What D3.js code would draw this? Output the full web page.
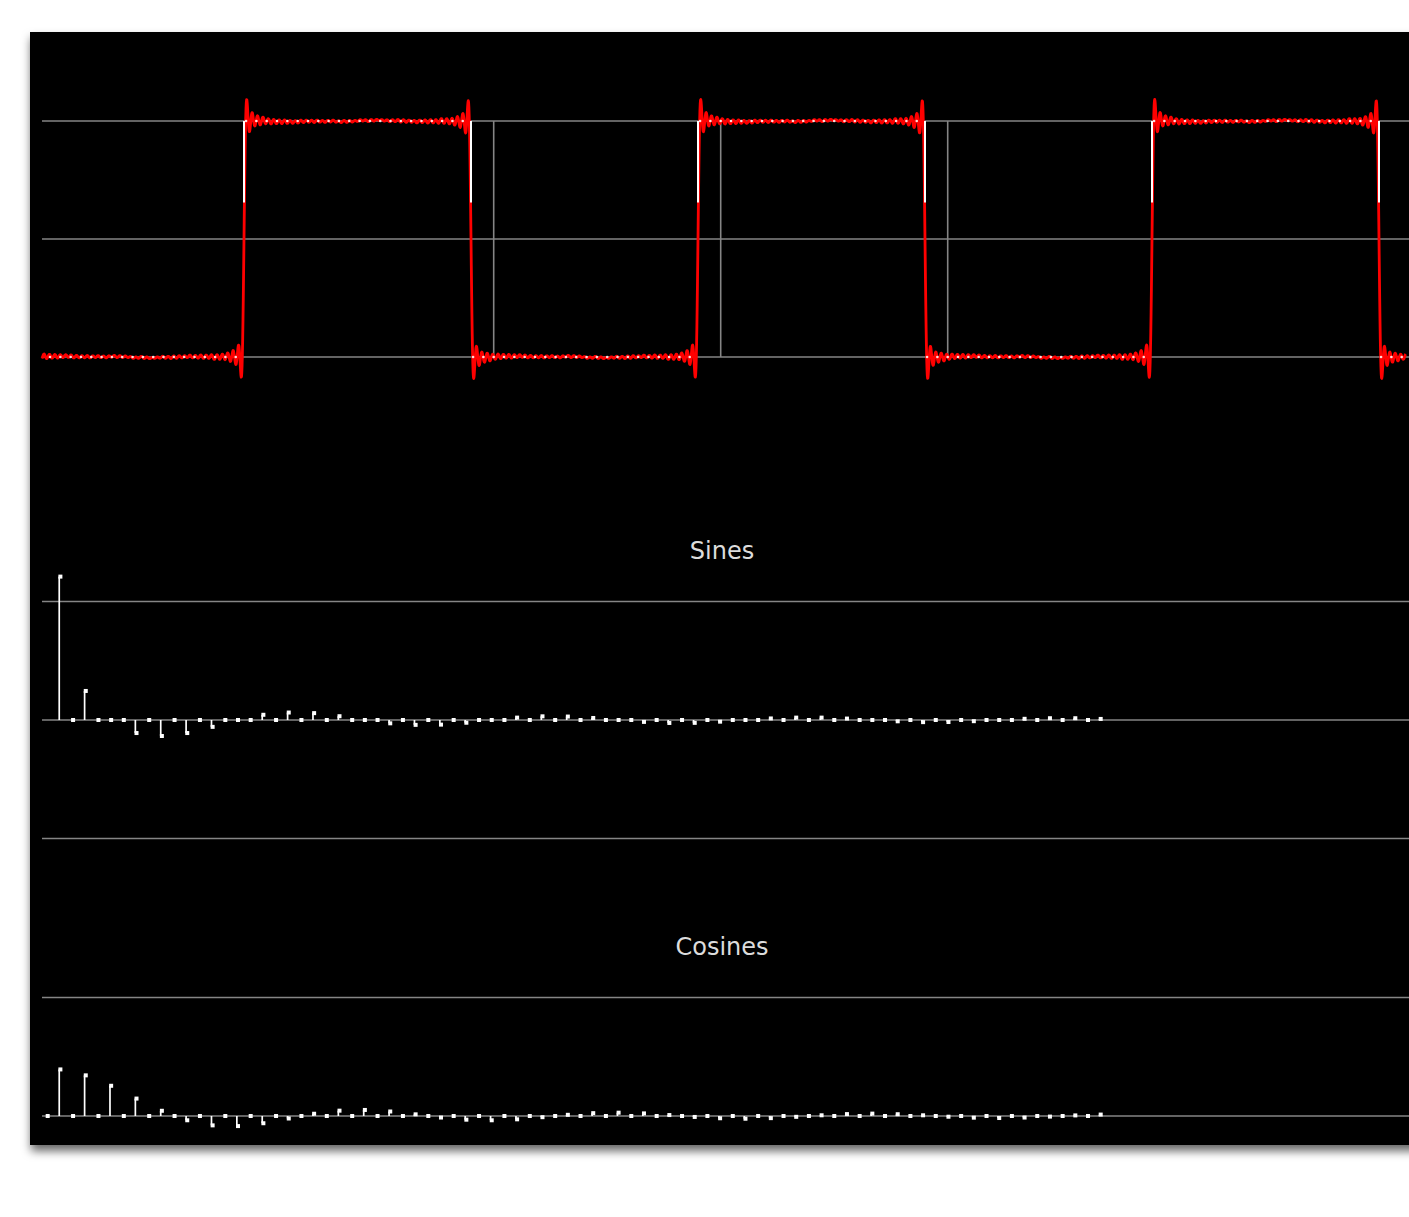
<!DOCTYPE html>
<html>
<head>
<meta charset="utf-8">
<style>
  html, body { margin: 0; background: #fff; }
  svg { display: block; }
  text { font-family: 'DejaVu Sans', Verdana, sans-serif; }
</style>
</head>
<body>
<svg width="1409" height="1217"></svg>
<script src="https://cdn.jsdelivr.net/npm/d3@7/dist/d3.min.js"></script>
<script>
// harmonic index shown on the two stem plots
var harmonics = d3.range(0, 84)

// sine coefficients (no stem for k = 0)
var sines = [
  null, 1.21, 0, 0.245, 0, 0, 0, -0.11, 0, -0.135,
  0, -0.11, 0, -0.058, 0, 0, 0, 0.044, 0, 0.063,
  0, 0.058, 0, 0.032, 0, 0, 0, -0.028, 0, -0.041,
  0, -0.039, 0, -0.023, 0, 0, 0, 0.02, 0, 0.031,
  0, 0.029, 0, 0.017, 0, 0, 0, -0.016, 0, -0.025,
  0, -0.024, 0, -0.014, 0, 0, 0, 0.013, 0, 0.02,
  0, 0.02, 0, 0.012, 0, 0, 0, -0.011, 0, -0.018,
  0, -0.017, 0, -0.01, 0, 0, 0, 0.01, 0, 0.015,
  0, 0.015, 0, 0.009
]

// cosine coefficients
var cosines = [
  0, 0.393, 0, 0.343, 0, 0.255, 0, 0.147, 0, 0.044,
  0, -0.036, 0, -0.079, 0, -0.085, 0, -0.061, 0, -0.021,
  0, 0.019, 0, 0.045, 0, 0.051, 0, 0.038, 0, 0.014,
  0, -0.013, 0, -0.031, 0, -0.036, 0, -0.028, 0, -0.01,
  0, 0.01, 0, 0.024, 0, 0.028, 0, 0.022, 0, 0.008,
  0, -0.008, 0, -0.019, 0, -0.023, 0, -0.018, 0, -0.007,
  0, 0.006, 0, 0.016, 0, 0.02, 0, 0.015, 0, 0.006,
  0, -0.006, 0, -0.014, 0, -0.017, 0, -0.013, 0, -0.005,
  0, 0.005, 0, 0.012
]

// the drawn square wave, time in periods, value positive = down (screen style)
var edgeTimes = [0.45, 0.95, 1.45, 1.95, 2.45, 2.95]
var startLevel = 1
var samplesPerPeriod = 44
var edgeMark = [-1, -0.31]
var markers = [1, 1.5, 2]
var gridValues = [-1, 0, 1]
var titles = ['Sines', 'Cosines']

;(function (d3) {
  var svg = d3.select('svg')
  var defs = svg.append('defs')

  var shadow = defs.append('filter')
        .attr('id', 'shadow')
        .attr('x', '-5%').attr('y', '-5%')
        .attr('width', '110%').attr('height', '110%')
  shadow.append('feDropShadow')
        .attr('dx', 1).attr('dy', 6)
        .attr('stdDeviation', 5)
        .attr('flood-color', '#000')
        .attr('flood-opacity', 0.6)

  defs.append('clipPath').attr('id', 'panel')
        .append('rect')
        .attr('x', 30).attr('y', 32)
        .attr('width', 1420).attr('height', 1113)

  svg.append('rect')
        .attr('x', 30).attr('y', 32)
        .attr('width', 1420).attr('height', 1113)
        .attr('fill', '#000')
        .attr('filter', 'url(#shadow)')

  var g = svg.append('g').attr('clip-path', 'url(#panel)')

  var gridLeft = 42
  var gridRight = 1440
  var gridColor = '#858585'

  // ---- signal panel ----
  var xTop = d3.scaleLinear().domain([0, 3]).range([39.7, 1401.7])
  var yTop = d3.scaleLinear().domain([-1, 1]).range([121, 357])

  g.selectAll('line.topgrid')
        .data(gridValues)
        .enter()
        .append('line')
        .attr('class', 'topgrid')
        .attr('x1', gridLeft).attr('x2', gridRight)
        .attr('y1', function (d) { return yTop(d) })
        .attr('y2', function (d) { return yTop(d) })
        .style('stroke', gridColor)
        .style('stroke-width', 1.6)

  g.selectAll('line.marker')
        .data(markers)
        .enter()
        .append('line')
        .attr('class', 'marker')
        .attr('x1', function (d) { return xTop(d) })
        .attr('x2', function (d) { return xTop(d) })
        .attr('y1', yTop(-1)).attr('y2', yTop(1))
        .style('stroke', gridColor)
        .style('stroke-width', 1.6)

  function level (t) {
    var n = edgeTimes.filter(function (e) { return e <= t }).length
    return n % 2 === 0 ? startLevel : -startLevel
  }

  function synth (t) {
    var s = 0
    harmonics.forEach(function (k) {
      var w = 2 * Math.PI * k * t
      s += cosines[k] * Math.cos(w) + (sines[k] || 0) * Math.sin(w)
    })
    return s
  }

  var t0 = xTop.invert(42)
  var t1 = xTop.invert(1406)
  var step = xTop.invert(40) - xTop.invert(39.7)
  var curve = d3.range(t0, t1, step).map(function (t) {
    return {t: t, v: synth(t)}
  })

  var ln = d3.line()
        .x(function (d) { return xTop(d.t) })
        .y(function (d) { return yTop(d.v) })

  g.append('path')
        .datum(curve)
        .attr('d', ln)
        .style('fill', 'none')
        .style('stroke', '#ff0000')
        .style('stroke-width', 2.8)
        .style('stroke-linejoin', 'round')

  g.selectAll('line.edge')
        .data(edgeTimes)
        .enter()
        .append('line')
        .attr('class', 'edge')
        .attr('x1', function (d) { return xTop(d) })
        .attr('x2', function (d) { return xTop(d) })
        .attr('y1', yTop(edgeMark[0]))
        .attr('y2', yTop(edgeMark[1]))
        .style('stroke', '#fff')
        .style('stroke-width', 2)

  var samples = d3.range(0, 3 * samplesPerPeriod + 1)
        .map(function (i) { return i / samplesPerPeriod })
        .filter(function (t) { return t >= t0 && t <= t1 })

  g.selectAll('circle.sample')
        .data(samples)
        .enter()
        .append('circle')
        .attr('class', 'sample')
        .attr('cx', function (d) { return xTop(d) })
        .attr('cy', function (d) { return yTop(level(d)) })
        .attr('r', 1.3)
        .style('fill', '#fff')
        .style('opacity', 0.85)

  // ---- coefficient panels ----
  var xH = d3.scaleLinear().domain([0, 83]).range([47.3, 1100.3])

  function stemPanel (values, title, top, titleY) {
    var y = d3.scaleLinear().domain([-1, 1]).range([top + 237, top])
    var panel = g.append('g')

    panel.append('text')
          .attr('x', 722).attr('y', titleY)
          .attr('text-anchor', 'middle')
          .style('font-size', '24px')
          .style('fill', '#dcdcdc')
          .text(title)

    panel.selectAll('line.grid')
          .data(gridValues)
          .enter()
          .append('line')
          .attr('class', 'grid')
          .attr('x1', gridLeft).attr('x2', gridRight)
          .attr('y1', function (d) { return y(d) })
          .attr('y2', function (d) { return y(d) })
          .style('stroke', gridColor)
          .style('stroke-width', 1.6)

    var pts = harmonics
          .filter(function (k) { return values[k] !== null })
          .map(function (k) { return {k: k, v: values[k]} })

    panel.selectAll('line.stem')
          .data(pts)
          .enter()
          .append('line')
          .attr('class', 'stem')
          .attr('x1', function (d) { return xH(d.k) - 0.75 })
          .attr('x2', function (d) { return xH(d.k) - 0.75 })
          .attr('y1', y(0))
          .attr('y2', function (d) { return y(d.v) })
          .style('stroke', '#fff')
          .style('stroke-width', 1.7)

    panel.selectAll('rect.dot')
          .data(pts)
          .enter()
          .append('rect')
          .attr('class', 'dot')
          .attr('x', function (d) { return xH(d.k) - 1.6 })
          .attr('y', function (d) { return y(d.v) - 2 })
          .attr('width', 4)
          .attr('height', 4)
          .style('fill', '#fff')
  }

  stemPanel(sines, titles[0], 601.5, 559)
  stemPanel(cosines, titles[1], 997.5, 955)
})(window.d3)
</script>
</body>
</html>
